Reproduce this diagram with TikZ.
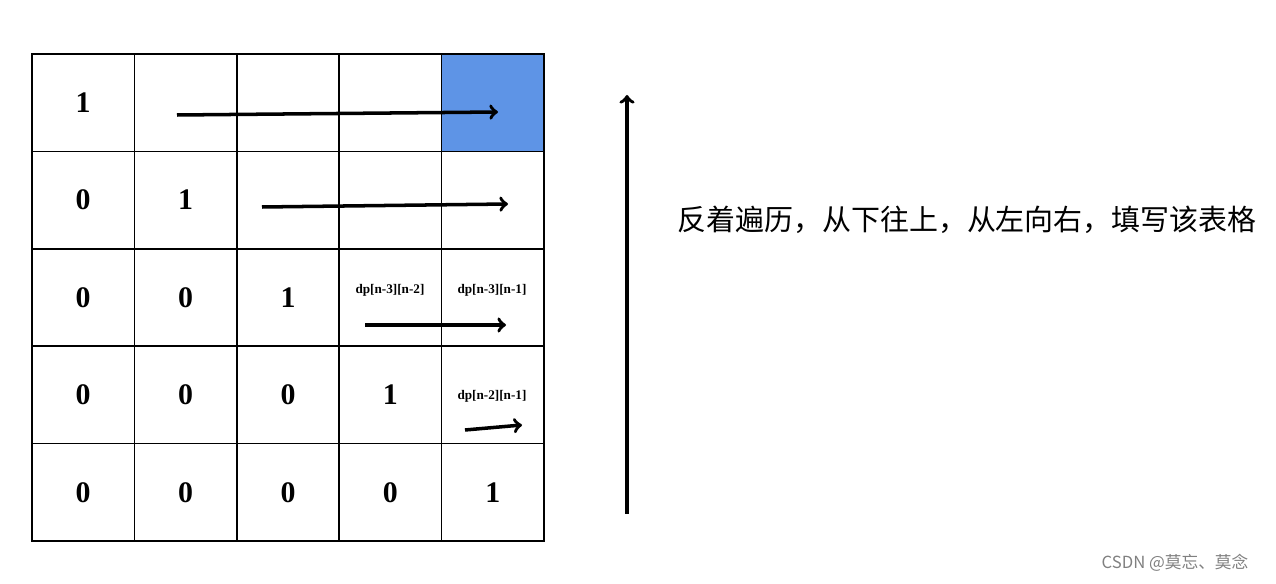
\documentclass[tikz,border=0pt]{standalone}
\usepackage{fontspec}
\setmainfont{Liberation Serif}
\newfontfamily\cjk{Noto Sans CJK SC}
\usetikzlibrary{positioning}
\definecolor{cellblue}{RGB}{94,148,230}

\begin{document}
\begin{tikzpicture}[
    x=0.02cm, y=-0.02cm,
    cell/.style={draw, line width=1pt, minimum width=102.4*0.02cm, minimum height=97.4*0.02cm,
                 inner sep=0pt, font=\fontsize{17}{17}\selectfont\bfseries},
    dplabel/.style={font=\fontsize{7.5}{7.5}\selectfont\bfseries, inner sep=0pt},
    walk/.style={->, line width=2pt}]

    \useasboundingbox (0,0) rectangle (1276,584);

    % grid
    \foreach \r in {1,...,5}
      \foreach \c in {1,...,5}
        \node[cell] (c\r\c) at ({32+102.4*(\c-0.5)}, {54+97.4*(\r-0.5)}) {};
    \node[cell, fill=cellblue] at (c15) {};

    % diagonal ones and lower zeros
    \foreach \r in {1,...,5}
      \foreach \c in {1,...,5} {
        \ifnum\c=\r \node[cell, draw=none] at (c\r\c) {1}; \fi
        \ifnum\c<\r \node[cell, draw=none] at (c\r\c) {0}; \fi
      }

    \node[dplabel] (l34) at (390,290) {dp[n-3][n-2]};
    \node[dplabel] (l35) at (492,290) {dp[n-3][n-1]};
    \node[dplabel] (l45) at (492,396) {dp[n-2][n-1]};

    % traversal arrows
    \coordinate (a1) at (177,115); \coordinate (b1) at (498,112);
    \coordinate (a2) at (262,207); \coordinate (b2) at (508,204);
    \coordinate (a3) at (365,325); \coordinate (b3) at (506,325);
    \coordinate (a4) at (465,430); \coordinate (b4) at (522,425);
    \foreach \i in {1,...,4} \draw[walk] (a\i) -- (b\i);

    \coordinate (up0) at (627,514); \coordinate (up1) at (627,95);
    \draw[walk] (up0) -- (up1);

    \node (note) at (967,220) {\cjk\fontsize{16.5}{16.5}\selectfont 反着遍历，从下往上，从左向右，填写该表格};
    \node[text=gray] (mark) at (1175,563) {\cjk\fontsize{9.5}{9.5}\selectfont CSDN @莫忘、莫念};
\end{tikzpicture}
\end{document}
